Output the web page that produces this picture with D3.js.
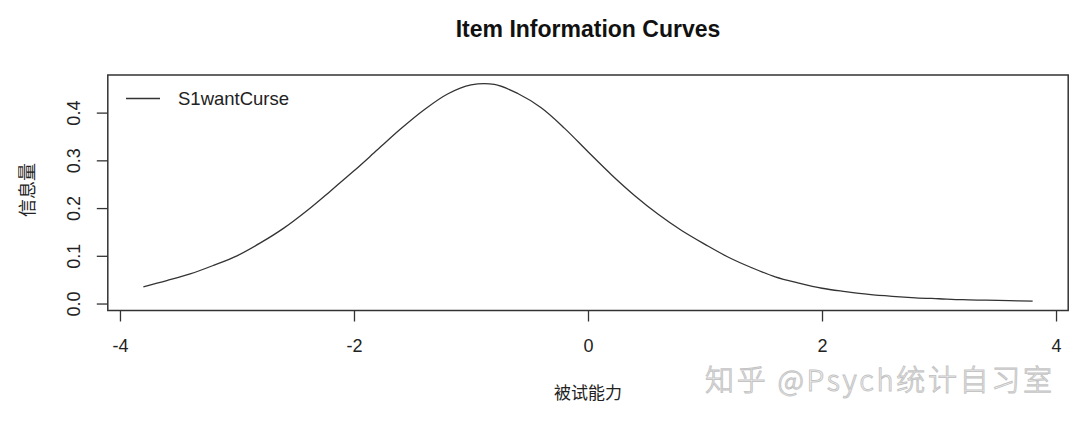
<!DOCTYPE html>
<meta charset="utf-8">
<style>
body { margin: 0; background: #fff; }
svg { font-family: "Liberation Sans", Arial, sans-serif; }
.frame { fill: none; stroke: #333; stroke-width: 1.5px; }
.curve { fill: none; stroke: #333; stroke-width: 1.3px; }
.axis path { stroke: #333; stroke-width: 1.3px; }
.axis line { stroke: #333; stroke-width: 1.3px; }
.axis text { fill: #222; font-size: 18px; }
</style>
<svg width="1080" height="429"></svg>
<script src="https://d3js.org/d3.v7.min.js"></script>
<script>

// ability grid and item information
var theta = [-3.8, -3.6, -3.4, -3.2, -3.0, -2.8, -2.6, -2.4, -2.2, -2.0,
             -1.8, -1.6, -1.4, -1.2, -1.0, -0.8, -0.6, -0.4, -0.2, 0.0,
             0.2, 0.4, 0.6, 0.8, 1.0, 1.2, 1.4, 1.6, 1.8, 2.0,
             2.2, 2.4, 2.6, 2.8, 3.0, 3.2, 3.4, 3.6, 3.8];
var info = [0.035, 0.048, 0.062, 0.080, 0.100, 0.127, 0.158, 0.195, 0.236, 0.278,
            0.322, 0.366, 0.406, 0.439, 0.458, 0.459, 0.440, 0.410, 0.367, 0.318,
            0.270, 0.226, 0.187, 0.153, 0.124, 0.097, 0.075, 0.056, 0.043, 0.032,
            0.025, 0.019, 0.015, 0.012, 0.010, 0.008, 0.007, 0.006, 0.005];
var xTicks = [-4, -2, 0, 2, 4],
    yTicks = [0.0, 0.1, 0.2, 0.3, 0.4];
var seriesName = "S1wantCurse";

var svg = d3.select("svg");

// plot region, R style 4% padding around the data range
var x = d3.scaleLinear().domain([-4.104, 4.104]).range([107.8, 1068.2]),
    y = d3.scaleLinear().domain([-0.0146, 0.4788]).range([310.5, 75]);

var data = theta.map(function(t, i) { return {t: t, v: info[i]}; });

svg.append("text")
    .attr("x", 588).attr("y", 37)
    .attr("text-anchor", "middle")
    .style("font-size", "23px").style("font-weight", "bold").style("fill", "#111")
    .text("Item Information Curves");

// axes (R puts labels with a plain hyphen minus)
var xAxis = svg.append("g")
    .attr("class", "axis")
    .attr("transform", "translate(0," + 310.5 + ")")
    .call(d3.axisBottom(x).tickValues(xTicks).tickSize(11).tickPadding(18)
      .tickFormat(function(d) { return String(d); }));
xAxis.select(".domain").remove();

var yAxis = svg.append("g")
    .attr("class", "axis")
    .attr("transform", "translate(" + 107.8 + ",0)")
    .call(d3.axisLeft(y).tickValues(yTicks).tickSize(11).tickFormat(d3.format(".1f")));
yAxis.select(".domain").remove();
yAxis.selectAll(".tick text")
    .attr("x", 0)
    .attr("text-anchor", "middle")
    .attr("transform", "translate(-34,0) rotate(-90)")
    .attr("dy", "0.35em");

svg.append("rect")
    .attr("class", "frame")
    .attr("x", x.range()[0]).attr("y", y.range()[1])
    .attr("width", x.range()[1] - x.range()[0])
    .attr("height", y.range()[0] - y.range()[1]);

var line = d3.line()
    .x(function(d) { return x(d.t); })
    .y(function(d) { return y(d.v); })
    .curve(d3.curveCatmullRom);

svg.append("path")
    .datum(data)
    .attr("class", "curve")
    .attr("d", line);

// legend
svg.append("line")
    .attr("class", "curve")
    .attr("x1", 126).attr("x2", 160).attr("y1", 98.5).attr("y2", 98.5);
svg.append("text")
    .attr("x", 178).attr("y", 105)
    .style("font-size", "18.5px").style("fill", "#222")
    .text(seriesName);

// axis titles
svg.append("text")
    .attr("transform", "translate(34,190) rotate(-90)")
    .attr("text-anchor", "middle")
    .style("font-family", "'Noto Sans CJK SC', sans-serif")
    .style("font-size", "18px").style("fill", "#222")
    .text("信息量");

svg.append("text")
    .attr("x", 588).attr("y", 399)
    .attr("text-anchor", "middle")
    .style("font-family", "'Noto Sans CJK SC', sans-serif")
    .style("font-size", "17px").style("fill", "#222")
    .text("被试能力");

// watermark
svg.append("text")
    .attr("x", 705).attr("y", 391)
    .attr("textLength", 347)
    .style("font-family", "'Noto Sans CJK SC', sans-serif")
    .style("font-size", "29px").style("font-weight", 300)
    .style("fill", "#fff").style("stroke", "#c4c4c4").style("stroke-width", 1)
    .text("知乎 @Psych统计自习室");

</script>
